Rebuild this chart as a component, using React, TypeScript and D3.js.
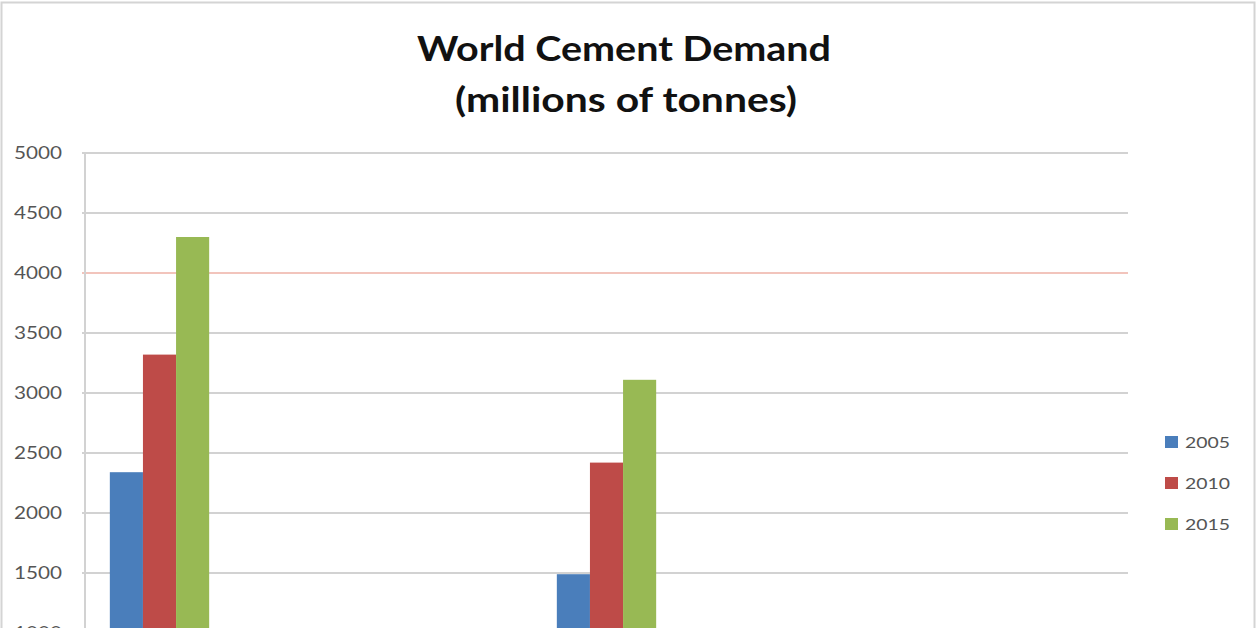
import * as d3 from 'd3'

const categories = [
  'World',
  'North America',
  'Western Europe',
  'Asia/Pacific',
  'Eastern Europe',
  'Central & South America',
  'Africa/Mideast',
]
const years = ['2005', '2010', '2015']
const values2005 = [2340, 160, 240, 1490, 110, 120, 260]
const values2010 = [3320, 130, 200, 2420, 120, 150, 330]
const values2015 = [4300, 170, 210, 3110, 150, 180, 410]
const yTicks = [0, 500, 1000, 1500, 2000, 2500, 3000, 3500, 4000, 4500, 5000]
const colors = ['#4a7ebb', '#be4b48', '#98b954']

const W = 1260
const H = 628
const plot = { left: 85, right: 1128, top: 153, bottom: 753 }

const App = () => {
  const series = [values2005, values2010, values2015]

  const x0 = d3.scaleBand<string>().domain(categories).range([plot.left, plot.right])
  const x1 = d3
    .scaleBand<string>()
    .domain(years)
    .range([0, x0.bandwidth()])
    .paddingInner(0)
    .paddingOuter(0.75)
  const y = d3.scaleLinear().domain([0, 5000]).range([plot.bottom, plot.top])

  const font = "Lato, 'Open Sans', sans-serif"

  return (
    <svg
      width={W}
      height={H}
      style={{ position: 'absolute', left: 0, top: 0, background: '#fff' }}
    >
      <rect x={1.5} y={2.5} width={1253} height={H + 10} fill="#fff" stroke="#d4d4d4" strokeWidth={2} />

      <text
        x={624}
        y={61}
        textAnchor="middle"
        fontFamily={font}
        fontWeight="bold"
        fontSize={35}
        textLength={414}
        lengthAdjust="spacingAndGlyphs"
        fill="#111"
      >
        World Cement Demand
      </text>
      <text
        x={626}
        y={112}
        textAnchor="middle"
        fontFamily={font}
        fontWeight="bold"
        fontSize={35}
        textLength={342}
        lengthAdjust="spacingAndGlyphs"
        fill="#111"
      >
        (millions of tonnes)
      </text>

      {yTicks.map(t => (
        <g key={t}>
          <line
            x1={plot.left - 3}
            x2={plot.right}
            y1={y(t)}
            y2={y(t)}
            stroke={t === 4000 ? '#f2c4bc' : '#d2d2d2'}
            strokeWidth={2}
          />
          <text
            x={62}
            y={y(t)}
            dy="0.35em"
            textAnchor="end"
            fontFamily={font}
            fontSize={17}
            textLength={48}
            lengthAdjust="spacingAndGlyphs"
            fill="#555"
          >
            {t}
          </text>
        </g>
      ))}
      <line x1={plot.left} x2={plot.left} y1={plot.top} y2={plot.bottom} stroke="#d2d2d2" strokeWidth={2} />

      {categories.map((c, ci) => (
        <g key={c} transform={`translate(${x0(c)},0)`}>
          {series.map((s, si) => (
            <rect
              key={years[si]}
              x={x1(years[si])}
              y={y(s[ci])}
              width={x1.bandwidth()}
              height={plot.bottom - y(s[ci])}
              fill={colors[si]}
            />
          ))}
        </g>
      ))}

      {years.map((yr, i) => (
        <g key={yr} transform={`translate(1165,${442 + i * 41})`}>
          <rect x={0} y={-6} width={13} height={12} fill={colors[i]} />
          <text
            x={20}
            y={0}
            dy="0.35em"
            fontFamily={font}
            fontSize={16}
            textLength={45}
            lengthAdjust="spacingAndGlyphs"
            fill="#555"
          >
            {yr}
          </text>
        </g>
      ))}
    </svg>
  )
}

export default App
